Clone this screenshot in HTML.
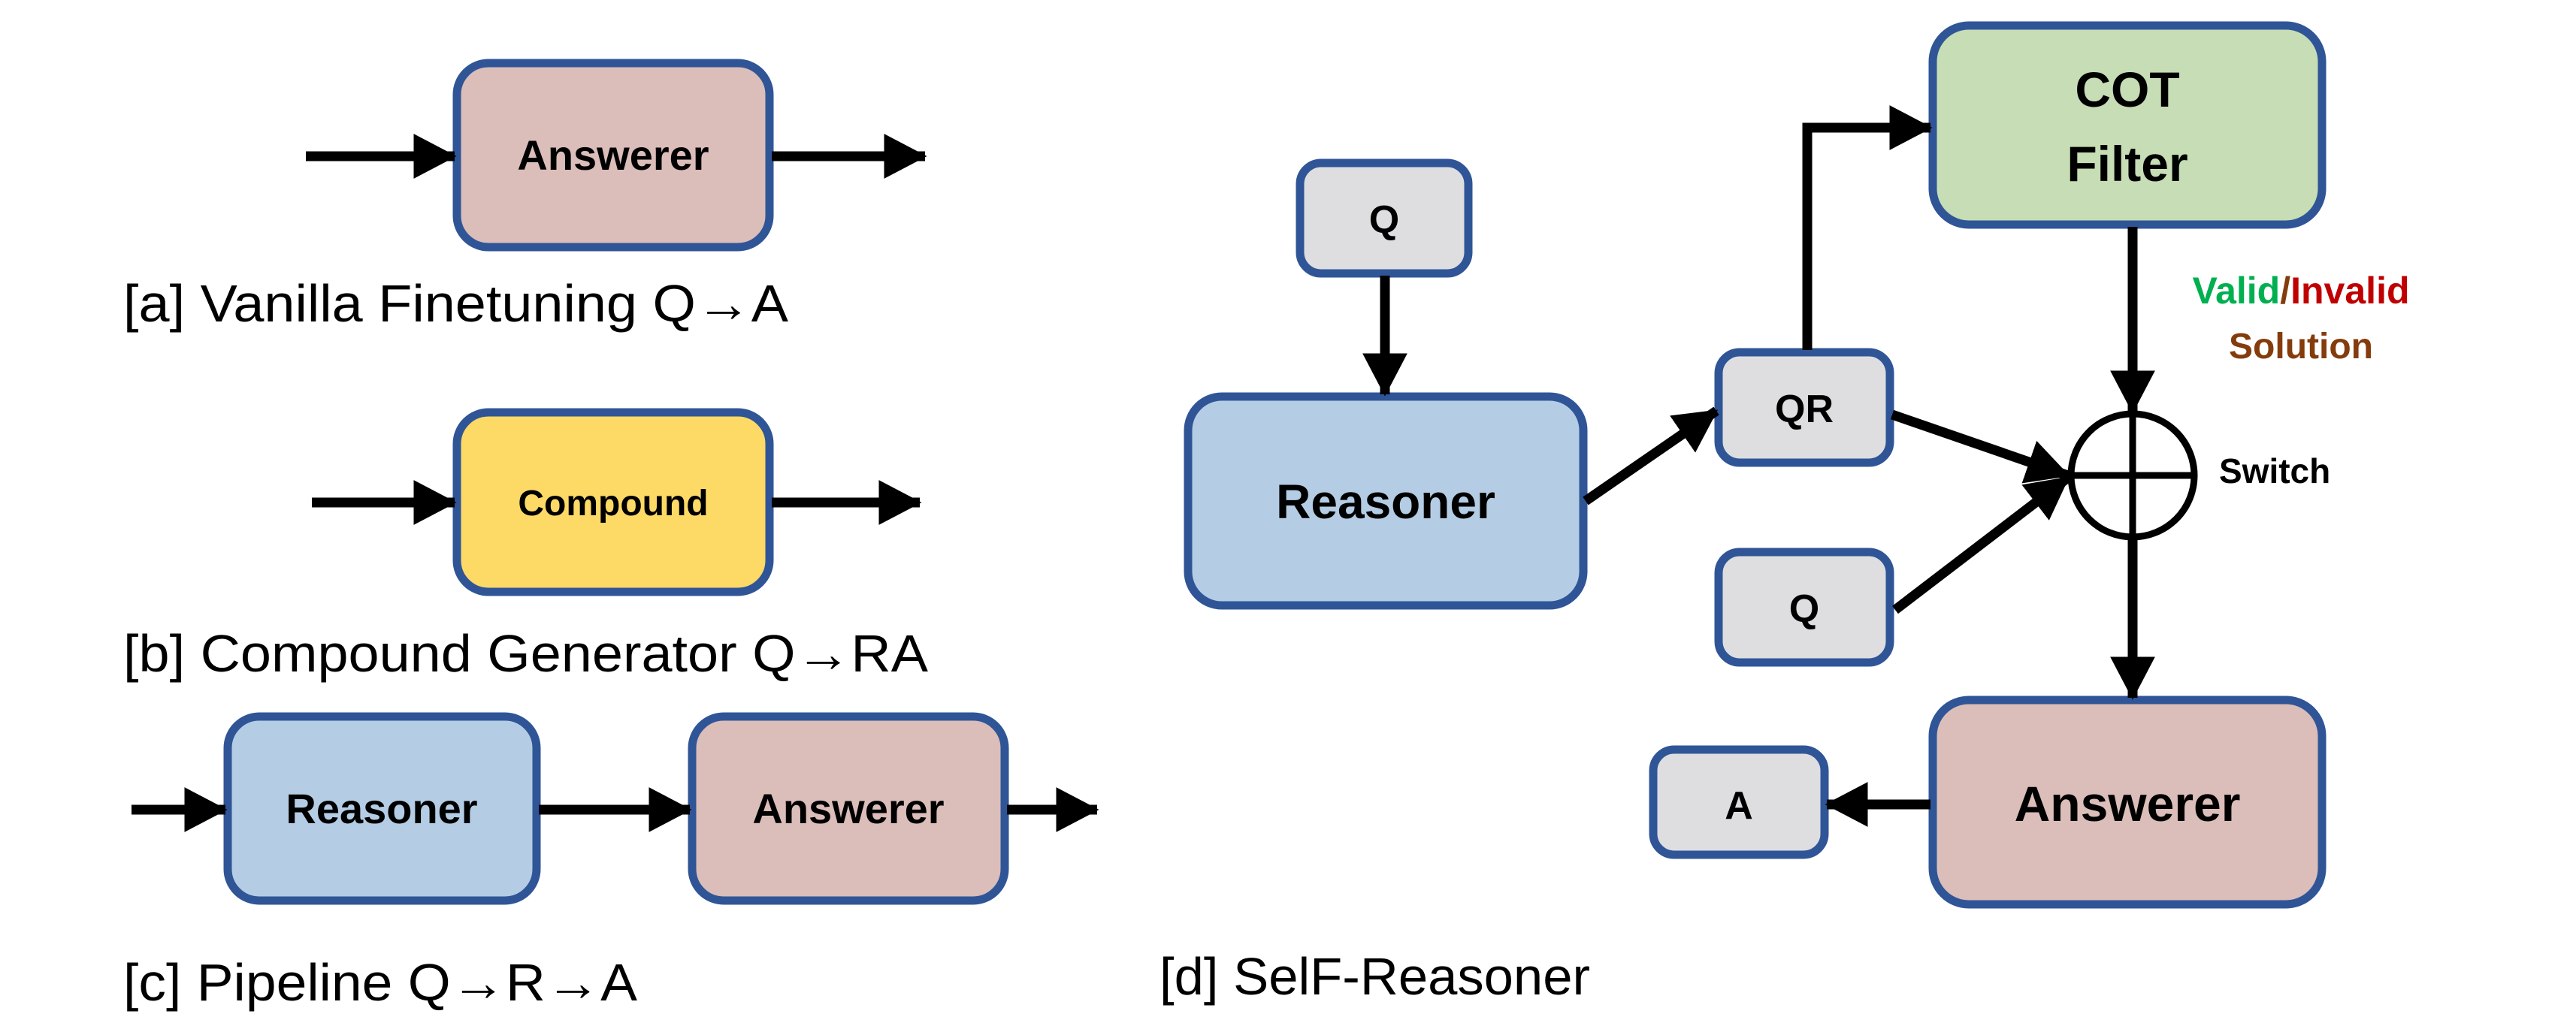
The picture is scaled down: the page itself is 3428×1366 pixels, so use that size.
<!DOCTYPE html>
<html><head><meta charset="utf-8"><style>
html,body{margin:0;padding:0;background:#fff;}
svg{display:block;}
text{font-family:"Liberation Sans",sans-serif;}
.b{font-weight:bold;fill:#000;}
.cap{font-size:70px;fill:#000;}
</style></head><body>
<svg width="3428" height="1366" viewBox="0 0 3428 1366" xmlns="http://www.w3.org/2000/svg">
<defs>
<marker id="ah" markerWidth="4.4" markerHeight="4.6" refX="4.2" refY="2.3" orient="auto" markerUnits="strokeWidth">
<path d="M0,0 L4.4,2.3 L0,4.6 Z" fill="#000"/>
</marker>
</defs>
<g stroke="#2F5597" stroke-width="11">
<rect x="608" y="84" width="416" height="245" rx="42" fill="#DBBDB9"/>
<rect x="608" y="549" width="416" height="239" rx="42" fill="#FDD966"/>
<rect x="303" y="954" width="411" height="245" rx="42" fill="#B4CDE4"/>
<rect x="921" y="954" width="416" height="245" rx="42" fill="#DBBDB9"/>
<rect x="1730" y="217" width="224" height="147" rx="28" fill="#DEDEE0"/>
<rect x="1581" y="528" width="526" height="278" rx="45" fill="#B4CDE4"/>
<rect x="2287" y="469" width="228" height="147" rx="28" fill="#DEDEE0"/>
<rect x="2287" y="735" width="228" height="147" rx="28" fill="#DEDEE0"/>
<rect x="2572" y="34" width="518" height="265" rx="48" fill="#C6DDB5"/>
<rect x="2572" y="932" width="518" height="272" rx="48" fill="#DBBDB9"/>
<rect x="2200" y="998" width="228" height="140" rx="28" fill="#DEDEE0"/>
</g>
<g stroke="#000" stroke-width="13" fill="none" marker-end="url(#ah)">
<line x1="407" y1="208" x2="605" y2="208"/>
<line x1="1027" y1="208" x2="1231" y2="208"/>
<line x1="415" y1="669" x2="605" y2="669"/>
<line x1="1027" y1="669" x2="1224" y2="669"/>
<line x1="175" y1="1078" x2="300" y2="1078"/>
<line x1="717" y1="1078" x2="918" y2="1078"/>
<line x1="1340" y1="1078" x2="1460" y2="1078"/>
<line x1="1843" y1="367" x2="1843" y2="525"/>
<line x1="2110" y1="667" x2="2284" y2="547"/>
<polyline points="2405,466 2405,170 2569,170"/>
<line x1="2838" y1="302" x2="2838" y2="548"/>
<line x1="2518" y1="552" x2="2752" y2="633"/>
<line x1="2522" y1="812" x2="2752" y2="636"/>
<line x1="2838" y1="716" x2="2838" y2="929"/>
<line x1="2569" y1="1071" x2="2431" y2="1071"/>
</g>
<g stroke="#000" stroke-width="9" fill="none">
<circle cx="2838" cy="633" r="82"/>
<line x1="2838" y1="551" x2="2838" y2="715"/>
<line x1="2756" y1="633" x2="2920" y2="633"/>
</g>
<g class="b" text-anchor="middle">
<text x="816" y="226" font-size="56">Answerer</text>
<text x="816" y="686" font-size="48">Compound</text>
<text x="508" y="1096" font-size="56">Reasoner</text>
<text x="1129" y="1096" font-size="56">Answerer</text>
<text x="1842" y="310" font-size="52">Q</text>
<text x="1844" y="690" font-size="64">Reasoner</text>
<text x="2401" y="562" font-size="52">QR</text>
<text x="2401" y="828" font-size="52">Q</text>
<text x="2831" y="142" font-size="66">COT</text>
<text x="2831" y="241" font-size="66">Filter</text>
<text x="2831" y="1093" font-size="66">Answerer</text>
<text x="2314" y="1090" font-size="52">A</text>
<text x="3062" y="404" font-size="50"><tspan fill="#00B050">Valid</tspan><tspan fill="#843C0C">/</tspan><tspan fill="#C00000">Invalid</tspan></text>
<text x="3062" y="477" font-size="48" style="fill:#843C0C">Solution</text>
</g>
<text class="b" x="2953" y="643" font-size="46">Switch</text>
<text class="cap" x="164" y="428" textLength="885" lengthAdjust="spacingAndGlyphs">[a] Vanilla Finetuning Q→A</text>
<text class="cap" x="164" y="894" textLength="1071" lengthAdjust="spacingAndGlyphs">[b] Compound Generator Q→RA</text>
<text class="cap" x="164" y="1332" textLength="684" lengthAdjust="spacingAndGlyphs">[c] Pipeline Q→R→A</text>
<text class="cap" x="1543" y="1324" textLength="573" lengthAdjust="spacingAndGlyphs">[d] SelF-Reasoner</text>
</svg>
</body></html>
